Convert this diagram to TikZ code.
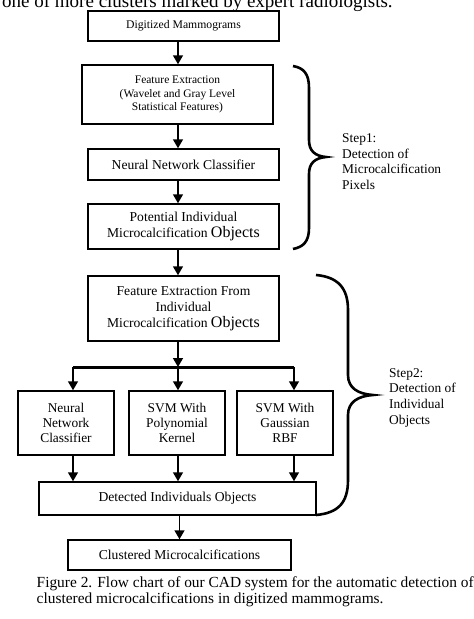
\documentclass[tikz,border=0pt]{standalone}
\usepackage{fontspec}
\setmainfont{Liberation Serif}
\usetikzlibrary{arrows.meta}
\newcommand{\bigobj}{{\fontsize{16}{16}\selectfont Objects}}
\begin{document}
\begin{tikzpicture}[x=1pt,y=-1pt,
  box/.style={draw, line width=1.5pt, align=center, inner sep=1pt, font=\fontsize{13.6}{16}\selectfont},
  arr/.style={line width=1.5pt, -{Triangle[width=10pt,length=9pt]}},
  brace/.style={line width=2.6pt},
  lab/.style={align=left, anchor=base west, inner sep=0pt, font=\fontsize{13.4}{15.6}\selectfont}]
\useasboundingbox (0,0) rectangle (474,619);
\node[anchor=base west, inner sep=0pt, font=\fontsize{19}{20}\selectfont] (top) at (2,7.5) {one of more clusters marked by expert radiologists.};
\node[box, minimum width=191pt, minimum height=30pt, font=\fontsize{11.7}{14}\selectfont] (b1) at (183.5,26) {Digitized Mammograms};
\node[box, minimum width=191pt, minimum height=59pt, font=\fontsize{11.5}{13.1}\selectfont] (b2) at (177.5,94.5) {Feature Extraction\\(Wavelet and Gray Level\\Statistical Features)};
\node[box, minimum width=191pt, minimum height=31pt] (b3) at (183.5,164.5) {Neural Network Classifier};
\node[box, minimum width=191pt, minimum height=45pt] (b4) at (183.5,226.5) {Potential Individual\\Microcalcification \bigobj};
\node[box, minimum width=191pt, minimum height=65pt] (b5) at (183.5,308.5) {Feature Extraction From\\Individual\\Microcalcification \bigobj};
\node[box, minimum width=96pt, minimum height=64pt, font=\fontsize{13.4}{15}\selectfont] (nn) at (66,423) {Neural\\Network\\Classifier};
\node[box, minimum width=96pt, minimum height=64pt, font=\fontsize{13.4}{15}\selectfont] (sp) at (177,423) {SVM With\\Polynomial\\Kernel};
\node[box, minimum width=96pt, minimum height=64pt, font=\fontsize{13.4}{15}\selectfont] (sg) at (285,423) {SVM With\\Gaussian\\RBF};
\node[box, minimum width=277pt, minimum height=33pt] (det) at (177.5,498.5) {Detected Individuals Objects};
\node[box, minimum width=223pt, minimum height=30pt] (clu) at (179.5,555) {Clustered Microcalcifications};
\coordinate (ax) at (178,0);
\coordinate (ax2) at (179.5,0);
\coordinate (xl) at (73,0);
\coordinate (xr) at (294,0);
\coordinate (barL) at (73,367);
\coordinate (barR) at (294,367);
\draw[arr] (ax |- b1.south) -- (ax |- b2.north);
\draw[arr] (ax |- b2.south) -- (ax |- b3.north);
\draw[arr] (ax |- b3.south) -- (ax |- b4.north);
\draw[arr] (ax |- b4.south) -- (ax |- b5.north);
\draw[arr] (ax |- b5.south) -- (ax |- barL);
\draw[line width=3pt] (barL) -- (barR);
\draw[arr] (barL) -- (xl |- nn.north);
\draw[arr] (ax |- barL) -- (ax |- sp.north);
\draw[arr] (barR) -- (xr |- sg.north);
\draw[arr] (xl |- nn.south) -- (xl |- det.north);
\draw[arr] (ax |- sp.south) -- (ax |- det.north);
\draw[arr] (xr |- sg.south) -- (xr |- det.north);
\draw[arr] (ax2 |- det.south) -- (ax2 |- clu.north);
% braces
\draw[brace] (293,66) .. controls (304,68) and (309,74) .. (309,88) -- (309,140)
  .. controls (309,151) and (315,156) .. (326,157)
  .. controls (315,158) and (309,163) .. (309,174) -- (309,228)
  .. controls (309,242) and (303,247) .. (293,249);
\draw[brace] (316,275) .. controls (338,277) and (348,288) .. (348,310) -- (348,375)
  .. controls (348,388) and (358,394) .. (373,395)
  .. controls (358,396) and (348,402) .. (348,415) -- (348,480)
  .. controls (348,503) and (338,513) .. (316,515);
\node[lab] (s1) at (342,189.5) {Step1:\\Detection of\\Microcalcification\\Pixels};
\node[lab] (s2) at (389,424) {Step2:\\Detection of\\Individual\\Objects};
\node[anchor=base west, inner sep=0pt, font=\fontsize{15.4}{16}\selectfont] (cap) at (36.5,587) {Figure 2. Flow chart of our CAD system for the automatic detection of};
\node[anchor=base west, inner sep=0pt, font=\fontsize{15.4}{16}\selectfont] (cap2) at (36.5,603.5) {clustered microcalcifications in digitized mammograms.};
\end{tikzpicture}
\end{document}
